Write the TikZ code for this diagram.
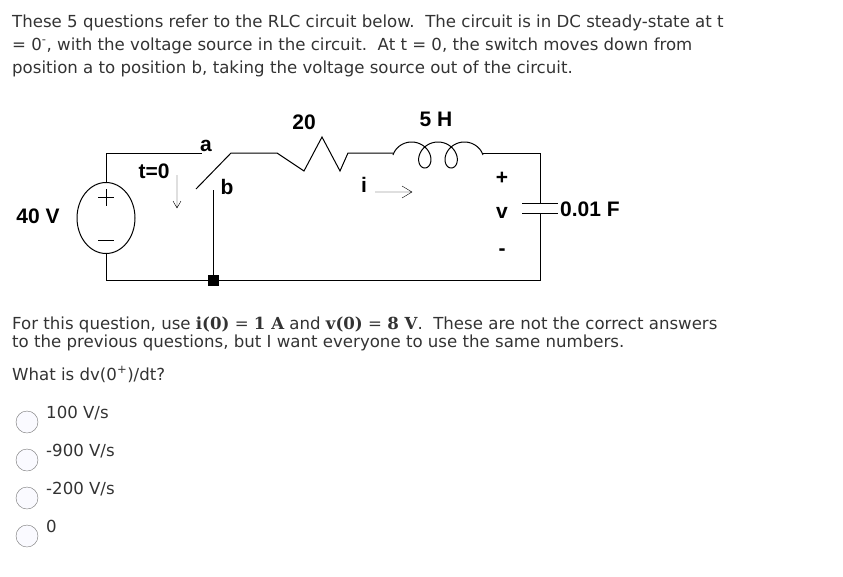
\documentclass[tikz,border=0pt]{standalone}
\usepackage{fontspec}
\usetikzlibrary{shapes.geometric}
\setmainfont{DejaVu Sans}
\newfontfamily\cf{Liberation Sans}
\newfontfamily\srf{DejaVu Serif}
\begin{document}
\begin{tikzpicture}[x=1pt,y=-1pt,
  txt/.style={anchor=base west,inner sep=0pt,font=\fontsize{16.6}{19}\selectfont,text=black!80},
  lab/.style={inner sep=0pt,font=\cf\bfseries\fontsize{21}{23}\selectfont},
  wire/.style={line width=1pt},
  opt/.style={circle,draw=black!55,fill=blue!2,minimum size=22pt,inner sep=0pt}]
\useasboundingbox (0,0) rectangle (843,576);
\node[txt] (l1) at (12,27) {These 5 questions refer to the RLC circuit below.\ \ The circuit is in DC steady-state at t};
\node[txt] (l2) at (12,50) {= 0\textsuperscript{-}, with the voltage source in the circuit.\ \ At t = 0, the switch moves down from};
\node[txt] (l3) at (12,73) {position a to position b, taking the voltage source out of the circuit.};
% circuit
\coordinate (tl) at (106,153); \coordinate (bl) at (106,280);
\coordinate (sa) at (202,153); \coordinate (bt) at (196,189); \coordinate (bh) at (231,153);
\coordinate (r0) at (277,153); \coordinate (r1) at (348,153);
\coordinate (i0) at (393,153); \coordinate (i1) at (483,153);
\coordinate (tr) at (540,153); \coordinate (br) at (540,280);
\coordinate (ct) at (540,203); \coordinate (cb) at (540,213);
\coordinate (bb) at (213,190); \coordinate (bj) at (213,280);
\node[draw,ellipse,minimum width=58pt,minimum height=71pt,line width=1pt,inner sep=0pt] (src) at (106,218) {};
\draw[wire] (src.north) -- (tl) -- (sa);
\draw[wire] (bt) -- (bh) -- (r0) -- (304,171) -- (322,137) -- (340,171) -- (r1) -- (i0);
\draw[wire] plot[domain=-pi/2:4.5*pi,samples=240,smooth] ({393+4.2*(\x+pi/2)+12*(sin(\x r)+1)},{155-13*cos(\x r)});
\draw[wire] (i1) -- (tr) -- (ct);
\draw[wire] (522,203) -- (558,203); \draw[wire] (522,213) -- (558,213);
\draw[wire] (cb) -- (br) -- (bl) -- (src.south);
\draw[wire] (bb) -- (bj);
\node[fill=black,minimum size=11pt,inner sep=0pt] (jn) at (bj) {};
\draw (106,189) -- (106,206) (98,197) -- (114,197);
\draw (98,240) -- (114,240);
\node[lab] (la) at (206,146) {a};
\node[lab] (lt) at (154,171) {t=0};
\draw (177,175) -- (177,208) (173,201) -- (177,208) -- (181,201);
\node[lab] (lb) at (227,187) {b};
\node[lab] (l20) at (304,122) {20};
\node[lab] (l5h) at (436,119) {5 H};
\node[lab] (li) at (364,185) {i};
\draw (375,192) -- (412,192) (402,186) -- (412,192) -- (402,198);
\node[lab] (lp) at (502,178) {+};
\node[lab] (lv) at (502,213) {v};
\node[lab] (lm) at (502,252) {-};
\node[lab,anchor=west] (lc) at (560,209) {0.01 F};
\node[lab] (l40) at (38,216) {40 V};
% question
\node[txt] (q1) at (12,329) {For this question, use {\srf\bfseries i(0)} {\srf =} {\srf\bfseries 1 A} and {\srf\bfseries v(0)} {\srf =} {\srf\bfseries 8 V}.\ \ These are not the correct answers};
\node[txt] (q2) at (12,347) {to the previous questions, but I want everyone to use the same numbers.};
\node[txt] (q3) at (12,380) {What is dv(0\textsuperscript{+})/dt?};
\node[opt] (o1) at (27,422) {}; \node[txt] (a1) at (46,418) {100 V/s};
\node[opt] (o2) at (27,460) {}; \node[txt] (a2) at (46,456) {-900 V/s};
\node[opt] (o3) at (27,498) {}; \node[txt] (a3) at (46,494) {-200 V/s};
\node[opt] (o4) at (27,536) {}; \node[txt] (a4) at (46,532) {0};
\end{tikzpicture}
\end{document}
